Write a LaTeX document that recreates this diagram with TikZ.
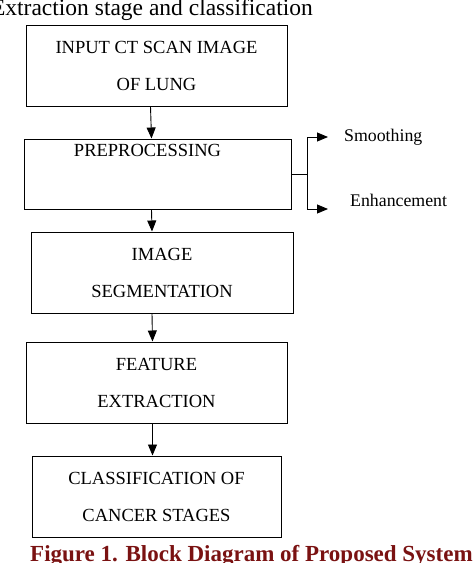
\documentclass[tikz,border=0pt]{standalone}
\usepackage{fontspec}
\setmainfont{Liberation Serif}
\usetikzlibrary{arrows.meta}
\definecolor{captionred}{RGB}{122,18,18}

\tikzset{
    stagebox/.style={draw,line width=1pt,align=center,inner sep=0pt,font=\fontsize{18.5}{37}\selectfont},
    flow/.style={line width=0.9pt,-{Triangle[length=11pt,width=9pt]}},
    sidetext/.style={inner sep=0pt,anchor=base west,font=\fontsize{17.8}{20}\selectfont}
}

\begin{document}
\begin{tikzpicture}[x=1pt,y=-1pt]
            \useasboundingbox (0,0) rectangle (474,563);

            \node[anchor=base east,inner sep=0pt,font=\fontsize{23.5}{28}\selectfont] (heading) at (313,15) {Extraction stage and classification};

            \node[stagebox,minimum width=261,minimum height=81] (input) at (156.5,65.5) {INPUT CT SCAN IMAGE\\OF LUNG};
            \node[stagebox,minimum width=267,minimum height=70] (prep) at (157.5,174) {\hspace{-20pt}PREPROCESSING\\\strut};
            \node[stagebox,minimum width=262,minimum height=81] (segment) at (162,272.5) {IMAGE\\SEGMENTATION};
            \node[stagebox,minimum width=261,minimum height=81] (feature) at (156.5,382.5) {FEATURE\\EXTRACTION};
            \node[stagebox,minimum width=249,minimum height=81] (classify) at (156.5,496.5) {CLASSIFICATION OF\\CANCER STAGES};

            \draw[flow] ([xshift=-6]input.south) -- ([xshift=-6]prep.north);
            \draw[flow] ([xshift=-6]prep.south) -- ([xshift=-10]segment.north);
            \draw[flow] ([xshift=-10]segment.south) -- ([xshift=-4]feature.north);
            \draw[flow] ([xshift=-4]feature.south) -- ([xshift=-4]classify.north);

            \coordinate (fork) at (307,174);
            \coordinate (smoothtip) at (328,137);
            \coordinate (enhancetip) at (328,209);
            \draw[line width=0.9pt] (prep.east) -- (fork);
            \draw[flow] (fork) |- (smoothtip);
            \draw[flow] (fork) |- (enhancetip);
            \node[sidetext] (smooth) at (344,141) {Smoothing};
            \node[sidetext] (enhance) at (350,206) {Enhancement};

            \node[anchor=base west,inner sep=0pt,text=captionred,font=\bfseries\fontsize{23}{28}\selectfont] (caption) at (30,561) {Figure 1. Block Diagram of Proposed System};
        \end{tikzpicture}
\end{document}
